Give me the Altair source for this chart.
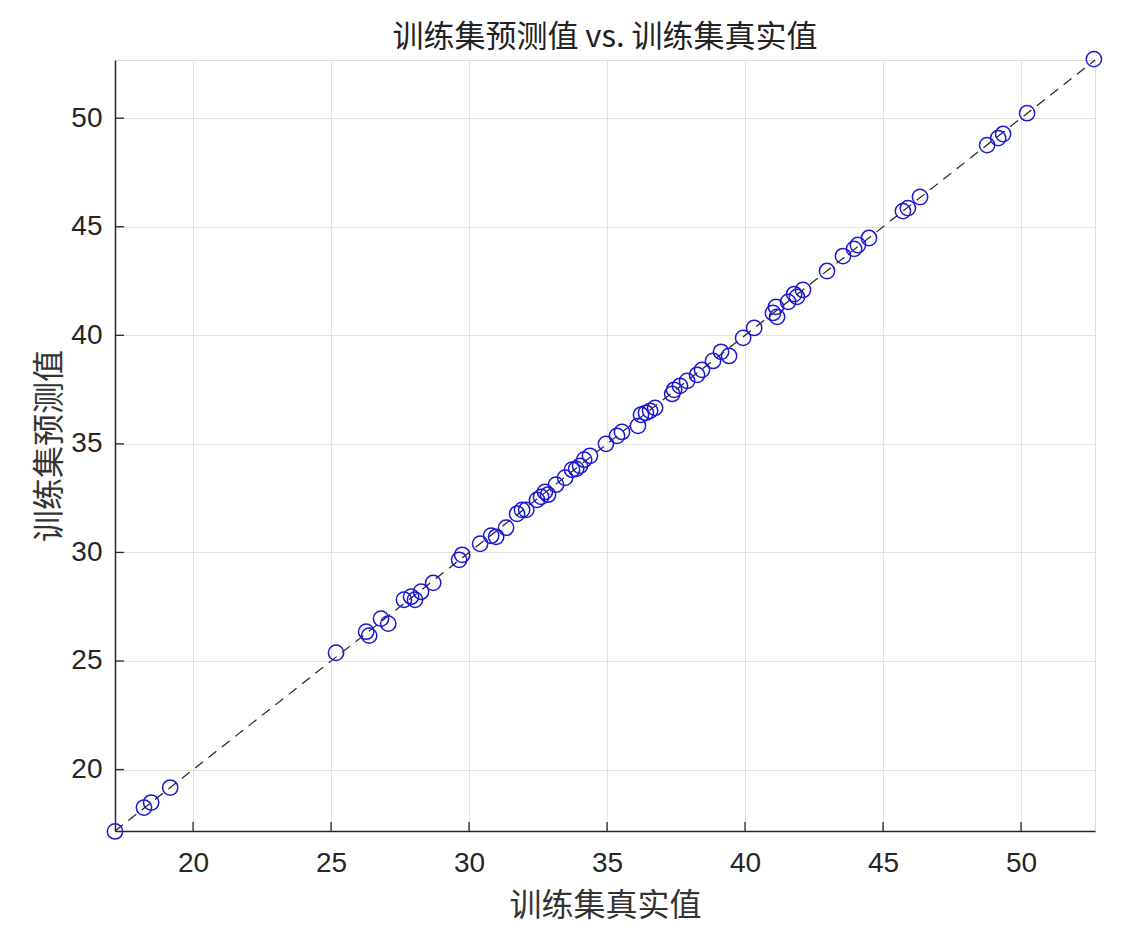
import altair as alt
import pandas as pd

true_vals = [17.17, 18.22, 18.48, 19.17, 25.18, 26.27, 26.38, 26.81, 27.07, 27.64,
             27.90, 28.04, 28.26, 28.70, 29.64, 29.75, 30.40, 30.80, 30.98, 31.34,
             31.74, 31.92, 32.07, 32.46, 32.61, 32.75, 32.86, 33.15, 33.48, 33.73,
             33.88, 34.02, 34.17, 34.38, 34.96, 35.36, 35.54, 36.12, 36.23, 36.41,
             36.56, 36.74, 37.36, 37.43, 37.64, 37.90, 38.26, 38.44, 38.84, 39.13,
             39.42, 39.93, 40.33, 41.01, 41.12, 41.16, 41.56, 41.78, 41.88, 42.10,
             42.97, 43.55, 43.95, 44.09, 44.49, 45.72, 45.90, 46.34, 48.77, 49.17,
             49.35, 50.22, 52.64]
pred_vals = [17.15, 18.25, 18.48, 19.17, 25.38, 26.35, 26.17, 26.95, 26.72, 27.82,
             27.96, 27.82, 28.19, 28.60, 29.66, 29.89, 30.40, 30.77, 30.72, 31.14,
             31.78, 31.96, 31.96, 32.42, 32.56, 32.79, 32.66, 33.12, 33.44, 33.81,
             33.85, 33.99, 34.27, 34.45, 35.00, 35.37, 35.55, 35.83, 36.34, 36.43,
             36.52, 36.66, 37.30, 37.49, 37.67, 37.90, 38.18, 38.41, 38.82, 39.24,
             39.05, 39.88, 40.34, 41.03, 41.31, 40.85, 41.54, 41.90, 41.77, 42.09,
             42.96, 43.65, 43.98, 44.16, 44.48, 45.72, 45.86, 46.37, 48.76, 49.08,
             49.27, 50.23, 52.72]
ticks = [20, 25, 30, 35, 40, 45, 50]
lo, hi = 17.17, 52.68

pts = pd.DataFrame({"true": true_vals, "pred": pred_vals})
diag = pd.DataFrame({"true": [lo, hi], "pred": [lo, hi]})
tick_df = pd.DataFrame({"t": ticks})

W, H = 980, 771
FONT = "Noto Sans CJK SC"
TXT = "#262626"

xs = alt.Scale(domain=[lo, hi], nice=False, zero=False)
ys = alt.Scale(domain=[lo, hi], nice=False, zero=False)

xaxis = alt.Axis(values=ticks, grid=True, gridColor="#e3e3e3", gridWidth=1,
                 domainColor=TXT, domainWidth=1.5, ticks=False,
                 labelFont="Liberation Sans", labelFontSize=28, labelColor=TXT,
                 labelPadding=18, title="训练集真实值", titleFont=FONT,
                 titleFontSize=32, titleFontWeight="normal", titleColor="#333333",
                 titlePadding=13)
yaxis = alt.Axis(values=ticks, grid=True, gridColor="#e3e3e3", gridWidth=1,
                 domainColor=TXT, domainWidth=1.5, ticks=False,
                 labelFont="Liberation Sans", labelFontSize=28, labelColor=TXT,
                 labelPadding=13, title="训练集预测值", titleFont=FONT,
                 titleFontSize=32, titleFontWeight="normal", titleColor="#333333",
                 titlePadding=4)

line = alt.Chart(diag).mark_line(color="#222222", strokeDash=[10, 7], strokeWidth=1.2).encode(
    x=alt.X("true:Q", scale=xs, axis=xaxis),
    y=alt.Y("pred:Q", scale=ys, axis=yaxis),
)
points = alt.Chart(pts).mark_point(shape="circle", filled=False, color="#1a1ad2",
                                   size=235, strokeWidth=1.5, opacity=1).encode(
    x=alt.X("true:Q", scale=xs),
    y=alt.Y("pred:Q", scale=ys),
)
xt = alt.Chart(tick_df).mark_rule(color=TXT, strokeWidth=1.3).encode(
    x=alt.X("t:Q", scale=xs),
    y=alt.value(H), y2=alt.value(H - 9),
)
yt = alt.Chart(tick_df).mark_rule(color=TXT, strokeWidth=1.3).encode(
    y=alt.Y("t:Q", scale=ys),
    x=alt.value(0), x2=alt.value(9),
)

chart = alt.layer(line, xt, yt, points).properties(
    width=W, height=H,
    title=alt.TitleParams("训练集预测值 vs. 训练集真实值", font=FONT, fontSize=31,
                          fontWeight="normal", color="#222222", offset=-6),
    autosize=alt.AutoSizeParams(type="none"),
    padding={"left": 107, "top": 52, "right": 30, "bottom": 100},
).configure_view(stroke=None).configure(background="white")

chart.save("out.html", embed_options={"renderer": "svg", "actions": False})
